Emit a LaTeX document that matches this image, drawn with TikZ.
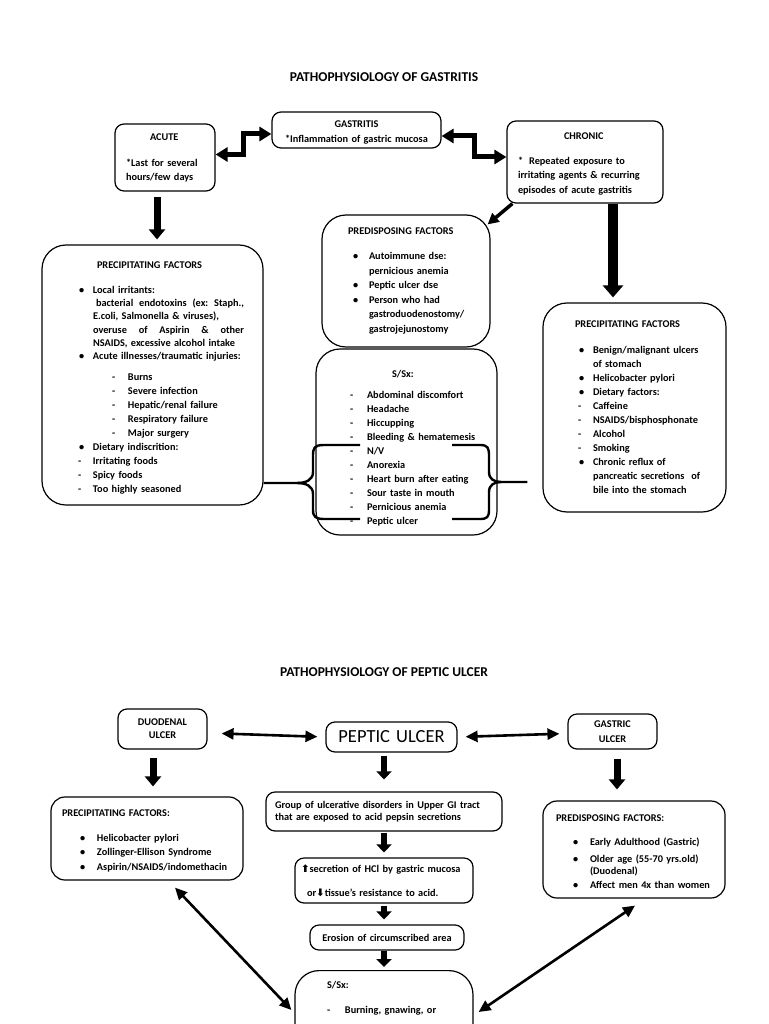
\documentclass[tikz,border=0pt]{standalone}
\usepackage{fontspec}
\setmainfont{Carlito}
\newfontfamily\symfont{DejaVu Sans}
\usetikzlibrary{arrows.meta,positioning}
\newcommand{\mk}[3]{\hspace*{#1}\makebox[#2][l]{#3}}
\begin{document}
\begin{tikzpicture}[x=1pt,y=-1pt,line join=miter,
  font=\bfseries\fontsize{10.3}{14}\selectfont,
  box/.style={draw,line width=1.2pt,rounded corners=9pt,inner sep=0pt},
  bigbox/.style={box,rounded corners=24pt},
  ltxt/.style={align=left,text width=#1},
  ctxt/.style={align=center,text width=#1},
  dn/.style={text height=#1},
  ttl/.style={font=\bfseries\fontsize{13.5}{16}\selectfont},
  blk/.style={line width=7pt,-{Triangle[width=16pt,length=10pt]}},
  blkw/.style={line width=10pt,-{Triangle[width=20pt,length=12pt]}},
  blks/.style={line width=6pt,-{Triangle[width=15pt,length=8pt]}},
  stair/.style={line width=5pt,{Triangle[width=14pt,length=12pt]}-{Triangle[width=14pt,length=12pt]}},
  dbl/.style={line width=2.6pt,{Triangle[width=11pt,length=12pt]}-{Triangle[width=11pt,length=12pt]}},
  sgl/.style={line width=3.5pt,-{Triangle[width=11pt,length=11pt]}},
  brc/.style={line width=2.4pt,line join=round}]
\path[use as bounding box] (0,0) rectangle (768,1024);

% ---- gastritis
\node[ttl] (t1) at (384,77) {PATHOPHYSIOLOGY OF GASTRITIS};
\node[box,ltxt=100pt,minimum height=67pt] (acute) at (165,157.5)
  {\hspace*{35pt}ACUTE\\[12pt]
   \hspace*{11pt}*Last for several\\
   \hspace*{11pt}hours/few days};
\node[box,ctxt=169pt,minimum height=36pt,dn=12.6pt] (gastr) at (356.5,130)
  {GASTRITIS\\[1pt]*Inflammation of gastric mucosa};
\node[box,ltxt=156pt,minimum height=82pt,dn=10.6pt] (chron) at (585,162)
  {\hspace*{57pt}CHRONIC\\[11pt]
   \hspace*{11pt}*\hspace{6pt}Repeated exposure to\\[0.5pt]
   \hspace*{11pt}irritating agents \& recurring\\[0.5pt]
   \hspace*{11pt}episodes of acute gastritis};
\node[bigbox,ltxt=221pt,minimum height=260pt,dn=12.6pt] (lprec) at (152.5,375)
  {\hspace*{55pt}PRECIPITATING FACTORS\\[11pt]
   \mk{37pt}{14pt}{\textbullet}Local irritants:\\[-0.7pt]
   \hspace*{54pt}\hbox to 148pt{bacterial\hfill endotoxins\hfill (ex:\hfill Staph.,}\\[-0.7pt]
   \hspace*{51pt}E.coli, Salmonella \& viruses),\\[-0.7pt]
   \hspace*{51pt}\hbox to 151pt{overuse\hfill of\hfill Aspirin\hfill \&\hfill other}\\[-0.7pt]
   \hspace*{51pt}NSAIDS, excessive alcohol intake\\[-0.7pt]
   \mk{37pt}{14pt}{\textbullet}Acute illnesses/traumatic injuries:\\[7pt]
   \mk{70pt}{16pt}{-}Burns\\
   \mk{70pt}{16pt}{-}Severe infection\\
   \mk{70pt}{16pt}{-}Hepatic/renal failure\\
   \mk{70pt}{16pt}{-}Respiratory failure\\
   \mk{70pt}{16pt}{-}Major surgery\\
   \mk{37pt}{14pt}{\textbullet}Dietary indiscrition:\\
   \mk{36pt}{15pt}{-}Irritating foods\\
   \mk{36pt}{15pt}{-}Spicy foods\\
   \mk{36pt}{15pt}{-}Too highly seasoned};
\node[bigbox,ltxt=168pt,minimum height=132pt] (pred) at (406,281)
  {\hspace*{26pt}PREDISPOSING FACTORS\\[11pt]
   \mk{31pt}{16pt}{\textbullet}Autoimmune dse:\\[0.5pt]
   \hspace*{47pt}pernicious anemia\\[0.5pt]
   \mk{31pt}{16pt}{\textbullet}Peptic ulcer dse\\[0.5pt]
   \mk{31pt}{16pt}{\textbullet}Person who had\\[0.5pt]
   \hspace*{47pt}gastroduodenostomy/\\[0.5pt]
   \hspace*{47pt}gastrojejunostomy};
\node[bigbox,ltxt=181pt,minimum height=186pt,dn=19pt] (sym) at (406.5,442)
  {\hspace*{76pt}S/Sx:\\[7pt]
   \mk{34pt}{17pt}{-}Abdominal discomfort\\
   \mk{34pt}{17pt}{-}Headache\\
   \mk{34pt}{17pt}{-}Hiccupping\\
   \mk{34pt}{17pt}{-}Bleeding \& hematemesis\\
   \mk{34pt}{17pt}{-}N/V\\
   \mk{34pt}{17pt}{-}Anorexia\\
   \mk{34pt}{17pt}{-}Heart burn after eating\\
   \mk{34pt}{17pt}{-}Sour taste in mouth\\
   \mk{34pt}{17pt}{-}Pernicious anemia\\
   \mk{34pt}{17pt}{-}Peptic ulcer};
\node[bigbox,ltxt=183pt,minimum height=209pt] (rprec) at (634.5,407.5)
  {\hspace*{32pt}PRECIPITATING FACTORS\\[12pt]
   \mk{36pt}{14pt}{\textbullet}Benign/malignant ulcers\\
   \hspace*{50pt}of stomach\\
   \mk{36pt}{14pt}{\textbullet}Helicobacter pylori\\
   \mk{36pt}{14pt}{\textbullet}Dietary factors:\\
   \mk{35pt}{15pt}{-}Caffeine\\
   \mk{35pt}{15pt}{-}NSAIDS/bisphosphonate\\
   \mk{35pt}{15pt}{-}Alcohol\\
   \mk{35pt}{15pt}{-}Smoking\\
   \mk{36pt}{14pt}{\textbullet}Chronic reflux of\\
   \hspace*{50pt}pancreatic secretions\ \ of\\
   \hspace*{50pt}bile into the stomach};

\draw[stair] ([yshift=3pt]acute.east) -- ++(28,0) |- ([yshift=-4pt]gastr.west);
\draw[stair] ([yshift=-6pt]gastr.east) -- ++(33,0) |- ([yshift=5pt]chron.west);
\draw[sgl] ([xshift=6pt]chron.south west) -- ([xshift=-3pt,yshift=-10pt]pred.north east);
\draw[blk,shorten <=5pt,shorten >=5pt] ([xshift=-8pt]acute.south) -- ([xshift=-8pt]acute.south |- lprec.north);
\draw[blkw,shorten >=5pt] ([xshift=28pt]chron.south) -- ([xshift=28pt]chron.south |- rprec.north);

% braces round the common signs
\coordinate (lt) at (297,483);
\coordinate (rt) at (501,482);
\draw[brc] (360,445) -- (324,445) .. controls (314,445) and (313,448) .. (313,456) -- (313,472)
  .. controls (313,480) and (306,483) .. (lt) -- (lt -| lprec.east);
\draw[brc] (lt) .. controls (306,483) and (313,486) .. (313,494) -- (313,510)
  .. controls (313,517) and (316,519) .. (324,519) -- (360,519);
\draw[brc] (452,445) -- (480,445) .. controls (488,445) and (489,448) .. (489,456) -- (489,472)
  .. controls (489,479) and (494,482) .. (rt) -- ([xshift=-15pt]rt -| rprec.west);
\draw[brc] (rt) .. controls (494,482) and (489,485) .. (489,492) -- (489,510)
  .. controls (489,517) and (487,519) .. (480,519) -- (452,519);

% ---- peptic ulcer
\node[ttl] (t2) at (384,672) {PATHOPHYSIOLOGY OF PEPTIC ULCER};
\node[box,ctxt=89pt,minimum height=40pt] (duod) at (162.5,729) {DUODENAL\\[-1pt]ULCER};
\node[box,ctxt=131pt,minimum height=30pt,font=\mdseries\fontsize{18.5}{20}\selectfont] (pu) at (391.5,737) {PEPTIC ULCER};
\node[box,ctxt=89pt,minimum height=35pt] (gast) at (612.5,731.5) {GASTRIC\\[1pt]ULCER};
\node[box,rounded corners=14pt,ltxt=192pt,minimum height=83pt,dn=11.6pt] (lprec2) at (147,838.5)
  {\hspace*{11pt}PRECIPITATING FACTORS:\\[11pt]
   \mk{29pt}{17pt}{\textbullet}Helicobacter pylori\\[0.5pt]
   \mk{29pt}{17pt}{\textbullet}Zollinger-Ellison Syndrome\\[0.5pt]
   \mk{29pt}{17pt}{\textbullet}Aspirin/NSAIDS/indomethacin};
\node[box,rounded corners=14pt,ltxt=182pt,minimum height=97pt,dn=11.6pt] (pred2) at (634,849.5)
  {\hspace*{13pt}PREDISPOSING FACTORS:\\[10pt]
   \mk{30pt}{17pt}{\textbullet}Early Adulthood (Gastric)\\[3pt]
   \mk{30pt}{17pt}{\textbullet}Older age (55-70 yrs.old)\\[-2pt]
   \hspace*{47pt}(Duodenal)\\
   \mk{30pt}{17pt}{\textbullet}Affect men 4x than women};
\node[box,ltxt=236pt,minimum height=39pt] (grp) at (384,811.5)
  {\hspace*{9pt}Group of ulcerative disorders in Upper GI tract\\[-1.5pt]
   \hspace*{9pt}that are exposed to acid pepsin secretions};
\node[box,ltxt=178pt,minimum height=45pt] (hcl) at (384,880.5)
  {\hspace*{6pt}{\symfont ⬆}secretion of HCl by gastric mucosa\\[10pt]
   \hspace*{12pt}or{\symfont ⬇}tissue’s resistance to acid.};
\node[box,ctxt=154pt,minimum height=25pt] (ero) at (387,937.5) {Erosion of circumscribed area};
\node[bigbox,ltxt=178pt,anchor=north,inner ysep=11pt,text depth=100pt] (sym2) at (384,970)
  {\hspace*{32pt}S/Sx:\\[11pt]
   \mk{32pt}{18pt}{-}Burning, gnawing, or};

\draw[dbl,shorten <=14pt,shorten >=8pt] ([yshift=-4pt]duod.east) -- (pu.west);
\draw[dbl,shorten <=8pt,shorten >=8pt] (pu.east) -- ([yshift=-2pt]gast.west);
\draw[blk,shorten <=8pt,shorten >=10pt] ([xshift=-9.5pt]duod.south) -- ([xshift=-9.5pt]duod.south |- lprec2.north);
\draw[blk,shorten <=9pt,shorten >=11pt] ([xshift=4.5pt]gast.south) -- ([xshift=4.5pt]gast.south |- pred2.north);
\draw[blks,shorten <=3pt,shorten >=12pt] (grp.north |- pu.south) -- (grp.north);
\draw[blks,shorten <=1pt,shorten >=5pt] (grp.south) -- (hcl.north);
\draw[blks,shorten <=2pt,shorten >=5pt] (hcl.south) -- (hcl.south |- ero.north);
\draw[blks,shorten >=3pt] (sym2.north |- ero.south) -- (sym2.north);
\draw[dbl] ([xshift=28pt,yshift=-7pt]lprec2.south) -- ([xshift=-3pt,yshift=-40pt]sym2.north west);
\draw[dbl] ([xshift=1pt,yshift=-7pt]pred2.south) -- ([xshift=5pt,yshift=-42pt]sym2.north east);
\end{tikzpicture}
\end{document}
